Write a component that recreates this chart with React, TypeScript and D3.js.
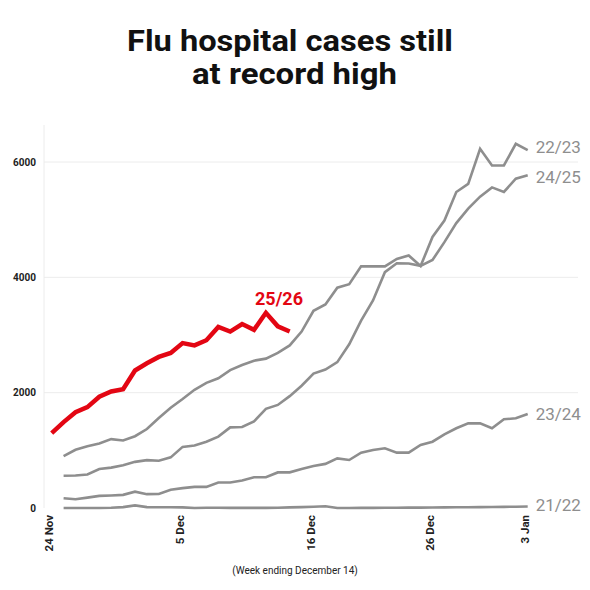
import React from 'react';
import * as d3 from 'd3';

// 数据：每日值，起点 24 Nov
const startDate = new Date(2025, 10, 24);
const endDate = new Date(2026, 0, 3);

const season2526 = [1300, 1490, 1660, 1750, 1930, 2020, 2060, 2385, 2510, 2620, 2690, 2860, 2820, 2910, 3140, 3060, 3190, 3090, 3385, 3150, 3060];

// 灰线从 25 Nov 开始
const season2223 = [900, 1010, 1070, 1120, 1195, 1170, 1245, 1370, 1560, 1740, 1890, 2050, 2170, 2250, 2390, 2480, 2555, 2590, 2690, 2820, 3060, 3420, 3530, 3820, 3880, 4190, 4190, 4190, 4320, 4380, 4195, 4700, 4985, 5480, 5620, 6230, 5940, 5940, 6315, 6205];
const season2425 = [560, 563, 580, 675, 700, 740, 800, 830, 820, 878, 1060, 1085, 1150, 1238, 1398, 1405, 1500, 1720, 1787, 1940, 2120, 2330, 2400, 2530, 2840, 3250, 3600, 4090, 4245, 4240, 4200, 4300, 4610, 4940, 5190, 5400, 5560, 5480, 5710, 5770];
const season2324 = [170, 152, 180, 210, 218, 228, 283, 240, 243, 315, 345, 366, 366, 441, 441, 478, 534, 534, 617, 618, 676, 728, 765, 861, 832, 960, 1006, 1035, 960, 960, 1092, 1150, 1277, 1382, 1468, 1468, 1382, 1538, 1555, 1630];
const season2122 = [0, 0, 0, 0, 5, 15, 45, 15, 12, 12, 10, 0, 5, 5, 3, 2, 2, 3, 5, 10, 15, 22, 30, 0, 0, 2, 3, 4, 5, 6, 7, 8, 10, 12, 14, 16, 18, 20, 22, 25];

const yTicks = [0, 2000, 4000, 6000];
const xTickDates = [
  new Date(2025, 10, 24),
  new Date(2025, 11, 5),
  new Date(2025, 11, 16),
  new Date(2025, 11, 26),
  new Date(2026, 0, 3),
];
const xTickLabels = ['24 Nov', '5 Dec', '16 Dec', '26 Dec', '3 Jan'];

const greySeries = [
  { name: '22/23', values: season2223 },
  { name: '24/25', values: season2425 },
  { name: '23/24', values: season2324 },
  { name: '21/22', values: season2122 },
];

const RED = '#e30613';
const GREY = '#8e8e8e';
const FONT = 'Roboto, "Noto Sans", sans-serif';

type Pt = { date: Date; value: number };

const toPoints = (values: number[], offsetDays: number): Pt[] =>
  values.map((v, i) => ({ date: d3.timeDay.offset(startDate, i + offsetDays), value: v }));

const App: React.FC = () => {
  const width = 590;
  const height = 590;

  const x = d3.scaleTime().domain([startDate, endDate]).range([51.7, 527.7]);
  const y = d3.scaleLinear().domain([0, 6000]).range([508, 162]);

  const line = d3
    .line<Pt>()
    .x(d => x(d.date))
    .y(d => y(d.value));

  const redPts = toPoints(season2526, 0);

  // 右侧标签的纵向位置（略作错开）
  const labelY: Record<string, number> = {
    '22/23': y(6205) - 3,
    '24/25': y(5770) + 2,
    '23/24': y(1630),
    '21/22': y(25) - 2,
  };

  return (
    <div style={{ position: 'absolute', left: 0, top: 0 }}>
      <svg width={width} height={height} style={{ display: 'block', background: '#fff', fontFamily: FONT }}>
        {/* 标题 */}
        <text x={290} y={51} textAnchor="middle" fontSize={29} fontWeight={700} fill="#111"
          textLength={326} lengthAdjust="spacingAndGlyphs">
          Flu hospital cases still
        </text>
        <text x={294.5} y={84} textAnchor="middle" fontSize={29} fontWeight={700} fill="#111"
          textLength={205} lengthAdjust="spacingAndGlyphs">
          at record high
        </text>

        {/* 网格线 */}
        {yTicks.map(t => (
          <g key={`y-${t}`}>
            {t > 0 && <line x1={44} x2={578} y1={y(t)} y2={y(t)} stroke="#ececec" strokeWidth={1} />}
            <text x={36} y={y(t)} dy="0.35em" textAnchor="end" fontSize={10} fontWeight={700} fill="#222">
              {t}
            </text>
          </g>
        ))}
        <line x1={44} x2={44} y1={125} y2={508} stroke="#ececec" strokeWidth={1} />

        {/* 横轴标签 */}
        {xTickDates.map((d, i) => {
          const tx = x(d);
          return (
            <text
              key={`x-${i}`}
              transform={`translate(${tx + 1},515) rotate(-90)`}
              textAnchor="end"
              fontSize={11.5}
              fontWeight={700}
              fill="#222"
            >
              {xTickLabels[i]}
            </text>
          );
        })}

        <text x={295} y={574} textAnchor="middle" fontSize={10} fill="#222">
          (Week ending December 14)
        </text>

        {/* 灰线 */}
        {greySeries.map(s => {
          const pts = toPoints(s.values, 1);
          const last = pts[pts.length - 1];
          return (
            <g key={s.name}>
              <path d={line(pts) || ''} fill="none" stroke={GREY} strokeWidth={2.6} strokeLinejoin="miter" />
              <text x={x(last.date) + 8} y={labelY[s.name]} dy="0.35em" fontSize={17} fill={GREY}>
                {s.name}
              </text>
            </g>
          );
        })}

        {/* 红线 25/26 */}
        <path d={line(redPts) || ''} fill="none" stroke={RED} strokeWidth={4.5} strokeLinejoin="miter" />
        <text x={279} y={305} textAnchor="middle" fontSize={18} fontWeight={700} fill={RED}>
          25/26
        </text>
      </svg>
    </div>
  );
};

export default App;
